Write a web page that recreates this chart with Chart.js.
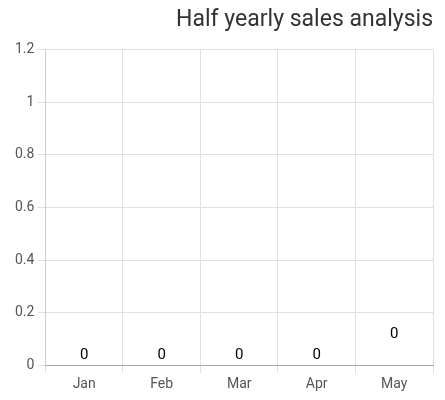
<!DOCTYPE html>
<html><head><script src="https://cdn.jsdelivr.net/npm/chart.js@4"></script>
<style>body{margin:0;background:#fff}#w{width:445px;height:400px}</style></head>
<body><div id="w"><canvas id="c"></canvas></div>
<script>
const categories=['Jan','Feb','Mar','Apr','May'];
const sales=[0,0,0,0,0.08];
const yTicks=[0,0.2,0.4,0.6,0.8,1,1.2];
const labelPlugin={id:'lbl',afterDatasetsDraw(ch){const ctx=ch.ctx;const m=ch.getDatasetMeta(0);ctx.save();ctx.font='15px Roboto';ctx.fillStyle='#000';ctx.textAlign='center';ctx.textBaseline='middle';m.data.forEach((p,i)=>{ctx.fillText(Math.round(sales[i]).toString(),p.x,p.y-10);});ctx.restore();}};
new Chart(document.getElementById('c'),{type:'line',data:{labels:categories,datasets:[{data:sales,borderColor:'transparent',backgroundColor:'transparent',pointRadius:0}]},
options:{responsive:true,maintainAspectRatio:false,animation:false,layout:{padding:{left:12,right:12,top:0,bottom:4}},
plugins:{legend:{display:false},tooltip:{enabled:false},title:{display:true,text:'Half yearly sales analysis',align:'end',color:'#333',font:{family:'Roboto',size:23,weight:'normal'},padding:{top:6,bottom:16}}},
scales:{x:{offset:true,grid:{offset:true,color:'#e0e0e0',tickLength:8},border:{color:'#aaa'},ticks:{color:'#555',font:{family:'Roboto',size:14}}},
y:{min:0,max:1.2,afterBuildTicks(a){a.ticks=yTicks.map(v=>({value:v}));},grid:{color:'#e0e0e0',tickLength:8},border:{color:'#ccc'},ticks:{color:'#555',font:{family:'Roboto',size:14},callback:v=>String(Math.round(v*10)/10)}}}},
plugins:[labelPlugin]});
</script></body></html>
